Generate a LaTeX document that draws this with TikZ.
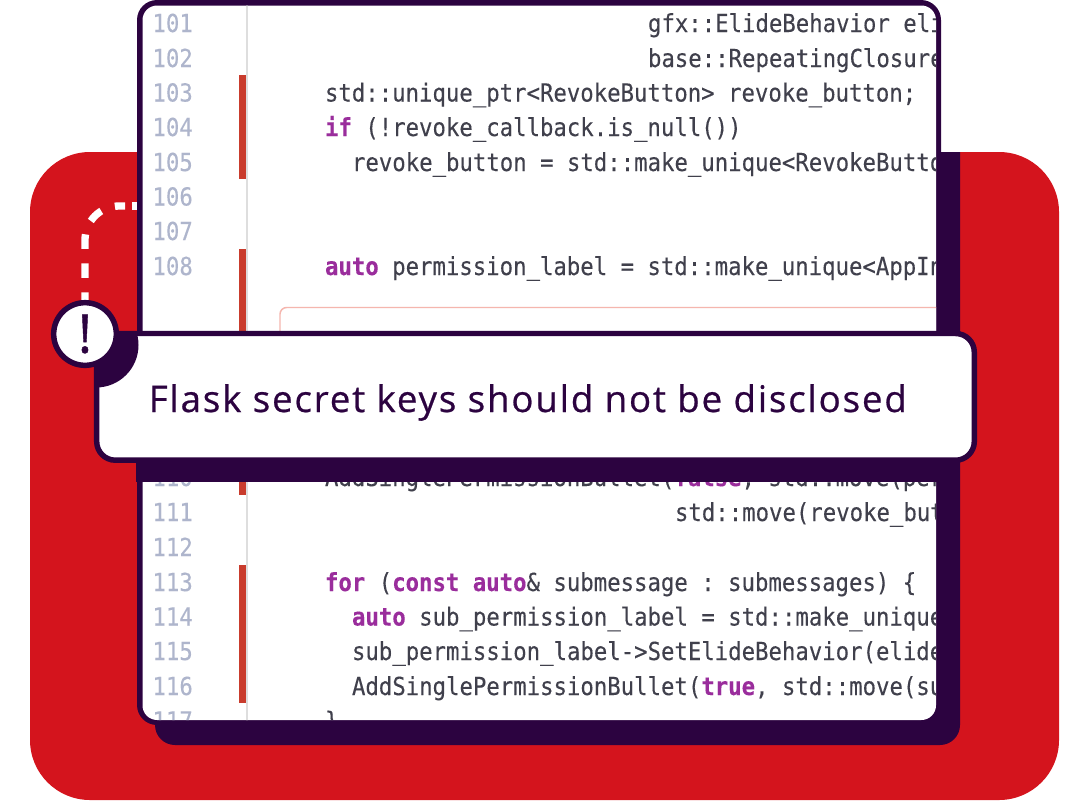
\documentclass[tikz,border=0pt]{standalone}
\usepackage{fontspec}
\setmainfont{Open Sans}
\newfontfamily\codefont[FakeStretch=0.9,FakeBold=0.2]{DejaVu Sans Mono}
\newfontfamily\calloutfont[LetterSpace=5.0,FakeBold=0.6]{Open Sans}
\newfontfamily\markfont[FakeBold=0.8]{Open Sans}
\definecolor{ink}{HTML}{2C0340}
\definecolor{brick}{HTML}{D4141D}
\definecolor{codegrey}{HTML}{40404C}
\definecolor{kwpurple}{HTML}{9A2D9C}
\definecolor{numgrey}{HTML}{AEB5CC}
\definecolor{barred}{HTML}{C93C2D}
\definecolor{rule}{HTML}{DEDEDE}
\definecolor{pinkline}{HTML}{F5B6AE}
\newcommand{\kw}[1]{{\bfseries\color{kwpurple}#1}}
\newcommand{\us}{\_}
\tikzset{
  numtext/.style={anchor=base west,inner sep=0pt,outer sep=0pt,text=numgrey,font=\codefont\fontsize{18.6pt}{20pt}\selectfont\frenchspacing},
  codetext/.style={anchor=base west,inner sep=0pt,outer sep=0pt,text=codegrey,font=\codefont\fontsize{18.6pt}{20pt}\selectfont\frenchspacing},
  changebar/.style={fill=barred,draw=none},
}
\newcommand{\num}[2]{\node[numtext] (n#1) at (152.5,#2) {#1};}
\newcommand{\code}[4]{\node[codetext] (c#1) at (#2,#3) {#4};}
\begin{document}
\begin{tikzpicture}[x=0.75pt,y=-0.75pt]
\useasboundingbox (0,0) rectangle (1088,800);
% red backdrop
\fill[brick,rounded corners=45pt] (30,152) rectangle (1059,800);
% dashed leader
\draw[white,line width=5.5pt,dash pattern=on 10.9pt off 10.9pt] (85,307) -- (85,240) arc[start angle=180,end angle=270,radius=34] -- (125,206);
\draw[white,line width=5.5pt] (132,206) -- (138,206);
% window shadow
\fill[ink] (155,152) -- (960,152) [rounded corners=15pt] -- (960,745) -- (155,745) [sharp corners] -- (155,600) -- cycle;
% window
\fill[ink,rounded corners=15pt] (137,0) rectangle (941,725);
\fill[white,rounded corners=11pt] (142.5,5.5) rectangle (936,720);
\begin{scope}
\clip[rounded corners=11pt] (142.5,5.5) rectangle (936,720);
\fill[rule] (246,0) rectangle (248,725);
\fill[changebar] (239,75) rectangle (246,179);
\fill[changebar] (239,249) rectangle (246,495);
\fill[changebar] (239,565) rectangle (246,703);
\draw[pinkline,line width=1.1pt,fill=white,rounded corners=5pt] (280,307.5) rectangle (1000,400);
\num{101}{32}\num{102}{67}\num{103}{101.5}\num{104}{136}\num{105}{171}\num{106}{205.5}\num{107}{240}\num{108}{275}
\num{110}{486}\num{111}{521}\num{112}{556}\num{113}{591}\num{114}{625.5}\num{115}{660}\num{116}{695}\num{117}{729.5}
\code{101}{648}{32}{gfx::ElideBehavior eli}
\code{102}{648}{67}{base::RepeatingClosure}
\code{103}{325}{101.5}{std::unique\us ptr<RevokeButton> revoke\us button;}
\code{104}{325}{136}{\kw{if} (!revoke\us callback.is\us null())}
\code{105}{352}{171}{revoke\us button = std::make\us unique<RevokeButto}
\code{108}{325}{275}{\kw{auto} permission\us label = std::make\us unique<AppIn}
\code{110}{325}{486}{AddSinglePermissionBullet(\kw{false}, std::move(per}
\code{111}{675}{521}{std::move(revoke\us but}
\code{113}{325}{591}{\kw{for} (\kw{const} \kw{auto}\& submessage : submessages) \{}
\code{114}{352}{625.5}{\kw{auto} sub\us permission\us label = std::make\us unique}
\code{115}{352}{660}{sub\us permission\us label->SetElideBehavior(elide}
\code{116}{352}{695}{AddSinglePermissionBullet(\kw{true}, std::move(su}
\code{117}{325}{729.5}{\}}
\end{scope}
% band under the callout
\fill[ink] (136,440) rectangle (960,482);
% callout
\draw[ink,line width=4.1pt,fill=white,rounded corners=14pt] (96.7,333.5) rectangle (974.3,460.2);
\begin{scope}
\clip[rounded corners=15pt] (94,331) rectangle (977,463);
\fill[ink] (96,345) circle[radius=42.5];
\end{scope}
\node[anchor=base west,inner sep=0pt,text=ink,font=\calloutfont\fontsize{27.5pt}{30pt}\selectfont] (title) at (148.5,412) {Flask secret keys should not be disclosed};
% alert badge
\node[circle,draw=ink,fill=white,line width=4.1pt,minimum size=47pt,inner sep=0pt] (badge) at (85,334) {};
\node[text=ink,inner sep=0pt,font=\markfont\fontsize{40pt}{44pt}\selectfont] (mark) at (badge.center) {!};
\end{tikzpicture}
\end{document}
